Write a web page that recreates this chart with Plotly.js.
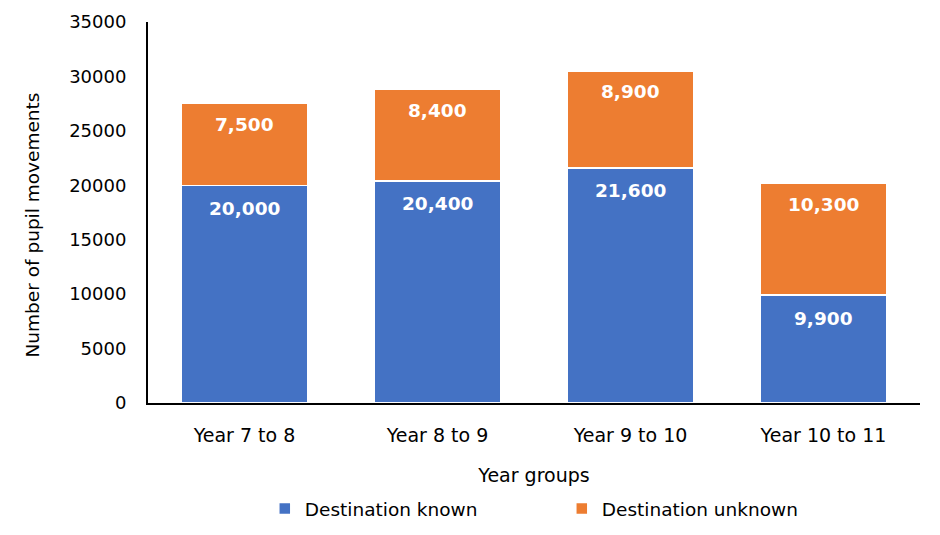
<!DOCTYPE html>
<html><head><meta charset="utf-8">
<script src="https://cdn.plot.ly/plotly-3.0.1.min.js"></script>
<style>html,body{margin:0;padding:0;background:#fff}#c{width:940px;height:535px}</style>
</head><body><div id="c"></div>
<script>
const categories = ["Year 7 to 8", "Year 8 to 9", "Year 9 to 10", "Year 10 to 11"];
const destinationKnown = [20000, 20400, 21600, 9900];
const destinationUnknown = [7500, 8400, 8900, 10300];
const seriesNames = ["Destination known", "Destination unknown"];
const colors = ["#4472C4", "#ED7D31"];
const FONT = "DejaVu Sans";

const fmt = v => v.toLocaleString("en-US");

const traces = [
  {type: "bar", name: seriesNames[0], x: categories, y: destinationKnown,
   marker: {color: colors[0], line: {color: "#fff", width: 1.5}}, hoverinfo: "none"},
  {type: "bar", name: seriesNames[1], x: categories, y: destinationUnknown,
   marker: {color: colors[1], line: {color: "#fff", width: 1.5}}, hoverinfo: "none"}
];

const annotations = [];
categories.forEach((c, i) => {
  annotations.push({x: c, y: destinationKnown[i], xref: "x", yref: "y", text: "<b>" + fmt(destinationKnown[i]) + "</b>",
    showarrow: false, yanchor: "middle", yshift: -23, font: {family: FONT, size: 18.5, color: "#fff"}});
  annotations.push({x: c, y: destinationKnown[i] + destinationUnknown[i], xref: "x", yref: "y", text: "<b>" + fmt(destinationUnknown[i]) + "</b>",
    showarrow: false, yanchor: "middle", yshift: -21, font: {family: FONT, size: 18.5, color: "#fff"}});
});
annotations.push({xref: "paper", yref: "paper", x: 0, xshift: -116, y: 0.5, yshift: -13, xanchor: "center", yanchor: "middle",
  textangle: -90, showarrow: false, text: "Number of pupil movements", font: {family: FONT, size: 18.5, color: "#000"}});

const layout = {
  width: 940, height: 535,
  margin: {l: 148, r: 20, t: 22, b: 132},
  barmode: "stack", bargap: 0.34,
  paper_bgcolor: "#fff", plot_bgcolor: "#fff",
  font: {family: FONT, size: 18, color: "#000"},
  showlegend: true,
  legend: {orientation: "h", x: 0.536, xanchor: "center", yref: "container", y: 26/535, yanchor: "middle",
    font: {family: FONT, size: 18.5, color: "#000"}, itemwidth: 30, entrywidth: 252, traceorder: "normal"},
  xaxis: {showline: true, linecolor: "#000", linewidth: 2, ticks: "", showgrid: false,
    tickfont: {family: FONT, size: 19}, ticklabelstandoff: 14,
    title: {text: "Year groups", font: {family: FONT, size: 19}, standoff: 24}},
  yaxis: {range: [0, 35000], dtick: 5000, tickformat: "d", showline: true, linecolor: "#000", linewidth: 2,
    ticks: "", showgrid: false, zeroline: false, ticklabelstandoff: 16,
    tickfont: {family: FONT, size: 18}},
  annotations: annotations
};

Plotly.newPlot("c", traces, layout, {staticPlot: true, displayModeBar: false});
</script></body></html>
